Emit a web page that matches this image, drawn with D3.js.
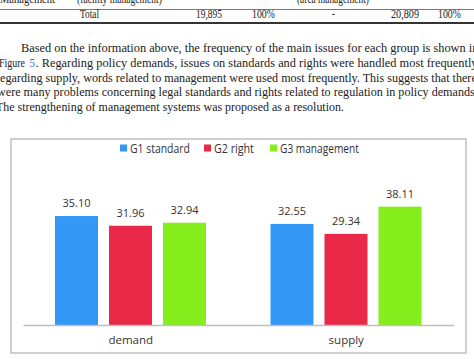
<!DOCTYPE html>
<html><head><meta charset="utf-8">
<script src="https://cdn.jsdelivr.net/npm/d3@7"></script>
<style>
html,body{margin:0;padding:0;background:#fff;overflow:hidden}
svg{display:block}
</style></head>
<body>
<script>
// ---- data ----
const categories = ["demand", "supply"];
const seriesNames = ["G1 standard", "G2 right", "G3 management"];
const g1Values = [35.10, 32.55];
const g2Values = [31.96, 29.34];
const g3Values = [32.94, 38.11];
const seriesColors = ["#3397f6", "#ea2948", "#86ee1c"];

// surrounding page text
const tableHeaderCells = ["Management", "(facility management)", "(area management)"];
const totalRow = ["Total", "19,895", "100%", "-", "20,809", "100%"];
const paragraphLines = [
  "Based on the information above, the frequency of the main issues for each group is shown in",
  "Figure 5. Regarding policy demands, issues on standards and rights were handled most frequently.",
  "Regarding supply, words related to management were used most frequently. This suggests that there",
  "were many problems concerning legal standards and rights related to regulation in policy demands.",
  "The strengthening of management systems was proposed as a resolution."
];

const W = 474, H = 359;
const svg = d3.select("body").append("svg").attr("width", W).attr("height", H);
const serif = "'Liberation Serif','DejaVu Serif',serif";
const sans = "'Open Sans','Noto Sans','DejaVu Sans',sans-serif";

// text squeezed horizontally to a given width via a transform
function fitText(t, x, yy, w, size, fill, fam) {
  const el = svg.append("text").attr("x", 0).attr("y", 0).attr("font-family", fam || serif)
    .attr("font-size", size).attr("fill", fill || "#222").text(t);
  const nat = el.node().getComputedTextLength() || w;
  el.attr("transform", `translate(${x},${yy}) scale(${w / nat},1)`);
  return el;
}

// ---- table fragment ----
const hdrX = [0, 77, 297], hdrW = [55, 85, 72];
tableHeaderCells.forEach((t, i) => fitText(t, hdrX[i], 3, hdrW[i], 12));
svg.append("line").attr("x1", 0).attr("x2", W).attr("y1", 9.5).attr("y2", 9.5)
  .attr("stroke", "#555").attr("stroke-width", 0.8);
const totX = [80, 196, 252, 332, 391, 438], totW = [19, 26, 23, 3, 28, 23];
totalRow.forEach((t, i) => fitText(t, totX[i], 18, totW[i], 11.5));
svg.append("line").attr("x1", 0).attr("x2", W).attr("y1", 23).attr("y2", 23)
  .attr("stroke", "#333").attr("stroke-width", 2);

// ---- paragraph ----
const lineX = [21, -1, -8, -3, -4];
const lineEnd = [479, 480, 477, 478, 344];
const lineY = [52, 67, 82, 96, 111];
paragraphLines.forEach((t, i) => {
  if (i === 1) {
    fitText("Figure", -1, lineY[i], 26, 13.5);
    fitText("5", 29.5, lineY[i], 5.5, 13.5, "#3a6fd8");
    fitText(t.slice(8), 35.5, lineY[i], lineEnd[i] - 35.5, 13.5);
  } else fitText(t, lineX[i], lineY[i], lineEnd[i] - lineX[i], 13.5);
});

// ---- chart frame ----
svg.append("rect").attr("x", 11).attr("y", 139).attr("width", 455).attr("height", 214)
  .attr("fill", "#fff").attr("stroke", "#c0c0c0").attr("stroke-width", 1.5);

// ---- legend ----
const legX = [120, 204, 270], legW = [60, 40, 79];
seriesNames.forEach((n, i) => {
  svg.append("rect").attr("x", legX[i]).attr("y", 144.5).attr("width", 7).attr("height", 7)
    .attr("fill", seriesColors[i]);
  fitText(n, legX[i] + 10, 152.5, legW[i], 12, "#333", sans);
});

// ---- scales ----
const x0 = d3.scaleBand().domain(categories).range([23, 454]).paddingInner(0).paddingOuter(0);
const x1 = d3.scaleBand().domain(seriesNames).range([32, 183]).paddingInner(11 / 54).paddingOuter(0);
const y = d3.scaleLinear().domain([0, 40]).range([325, 200.8]);
const color = d3.scaleOrdinal().domain(seriesNames).range(seriesColors);

const rows = categories.map((c, i) => ({
  cat: c,
  vals: [g1Values[i], g2Values[i], g3Values[i]].map((v, k) => ({ s: seriesNames[k], v }))
}));

const groups = svg.append("g").selectAll("g").data(rows).join("g")
  .attr("transform", d => `translate(${x0(d.cat)},0)`);
groups.selectAll("rect").data(d => d.vals).join("rect")
  .attr("x", d => x1(d.s)).attr("width", x1.bandwidth())
  .attr("y", d => y(d.v)).attr("height", d => y(0) - y(d.v))
  .attr("fill", d => color(d.s));
groups.selectAll("text.val").data(d => d.vals).join("text").attr("class", "val")
  .attr("x", d => x1(d.s) + x1.bandwidth() / 2).attr("y", d => y(d.v) - 9)
  .attr("text-anchor", "middle").attr("font-family", sans).attr("font-size", 11)
  .attr("fill", "#333").text(d => d.v.toFixed(2));

// ---- x axis ----
const xAxis = svg.append("g").attr("transform", `translate(0,${y(0)})`)
  .call(d3.axisBottom(x0).tickSize(0).tickPadding(11));
xAxis.select(".domain").attr("stroke", "#bfbfbf").attr("stroke-width", 1.5);
xAxis.selectAll("text").attr("font-family", sans).attr("font-size", 11.5).attr("fill", "#333");
</script>
</body></html>
